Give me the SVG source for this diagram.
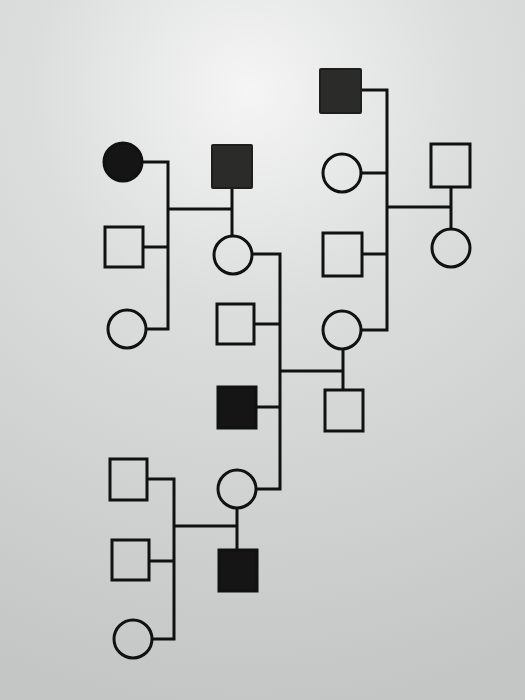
<svg xmlns="http://www.w3.org/2000/svg" width="525" height="700" viewBox="0 0 525 700">
<defs>
<radialGradient id="bg" cx="250" cy="90" r="620" gradientUnits="userSpaceOnUse">
<stop offset="0" stop-color="#f4f5f4"/>
<stop offset="0.35" stop-color="#dcdedd"/>
<stop offset="1" stop-color="#c4c6c6"/>
</radialGradient>
<style>
.n{fill:none;stroke:#111;stroke-width:3}
.a{fill:#151515;stroke:#111;stroke-width:3}
.a2{fill:#2b2c2a;stroke:#1e1e1e;stroke-width:2}
.c{fill:none;stroke:#111;stroke-width:3;stroke-linejoin:miter}
</style>
</defs>
<rect x="0" y="0" width="525" height="700" fill="url(#bg)"/>
<g id="connectors">
<polyline class="c" points="142,162 168,162 168,329 145,329"/>
<line class="c" x1="143" y1="247" x2="168" y2="247"/>
<line class="c" x1="168" y1="209" x2="232" y2="209"/>
<line class="c" x1="232" y1="188" x2="232" y2="236"/>
<polyline class="c" points="361,90 387,90 387,330 361,330"/>
<line class="c" x1="361" y1="173" x2="387" y2="173"/>
<line class="c" x1="362" y1="254" x2="387" y2="254"/>
<line class="c" x1="387" y1="207" x2="451" y2="207"/>
<line class="c" x1="451" y1="187" x2="451" y2="229"/>
<polyline class="c" points="252,254 280,254 280,489 256,489"/>
<line class="c" x1="254" y1="324" x2="280" y2="324"/>
<line class="c" x1="256" y1="407" x2="280" y2="407"/>
<line class="c" x1="280" y1="371" x2="343" y2="371"/>
<line class="c" x1="343" y1="349" x2="343" y2="390"/>
<polyline class="c" points="147,479 174,479 174,639 152,639"/>
<line class="c" x1="149" y1="561" x2="174" y2="561"/>
<line class="c" x1="174" y1="526" x2="237" y2="526"/>
<line class="c" x1="237" y1="508" x2="237" y2="550"/>
</g>
<g id="I1"><circle class="a" cx="123" cy="162" r="19"/></g>
<g id="I2"><rect class="a2" x="212" y="145" width="40" height="43" rx="1"/></g>
<g id="I3"><rect class="a2" x="320" y="69" width="41" height="44" rx="1"/></g>
<g id="II1"><rect class="n" x="105" y="227" width="38" height="40"/></g>
<g id="II2"><circle class="n" cx="127" cy="329" r="19"/></g>
<g id="II3"><circle class="n" cx="233" cy="255" r="19"/></g>
<g id="II4"><circle class="n" cx="342" cy="173" r="19"/></g>
<g id="II5"><rect class="n" x="431" y="144" width="39" height="43"/></g>
<g id="II6"><circle class="n" cx="451" cy="248" r="19"/></g>
<g id="II7"><rect class="n" x="323" y="233" width="39" height="43"/></g>
<g id="III1"><rect class="n" x="217" y="304" width="37" height="40"/></g>
<g id="III2"><circle class="n" cx="342" cy="330" r="19"/></g>
<g id="III3"><rect class="a" x="218" y="387" width="38" height="41"/></g>
<g id="III4"><rect class="n" x="325" y="390" width="38" height="41"/></g>
<g id="III5"><circle class="n" cx="237" cy="489" r="19"/></g>
<g id="IV1"><rect class="n" x="110" y="459" width="37" height="41"/></g>
<g id="IV2"><rect class="n" x="112" y="540" width="37" height="40"/></g>
<g id="IV3"><circle class="n" cx="133" cy="639" r="19"/></g>
<g id="IV4"><rect class="a" x="219" y="550" width="38" height="41"/></g>
</svg>
